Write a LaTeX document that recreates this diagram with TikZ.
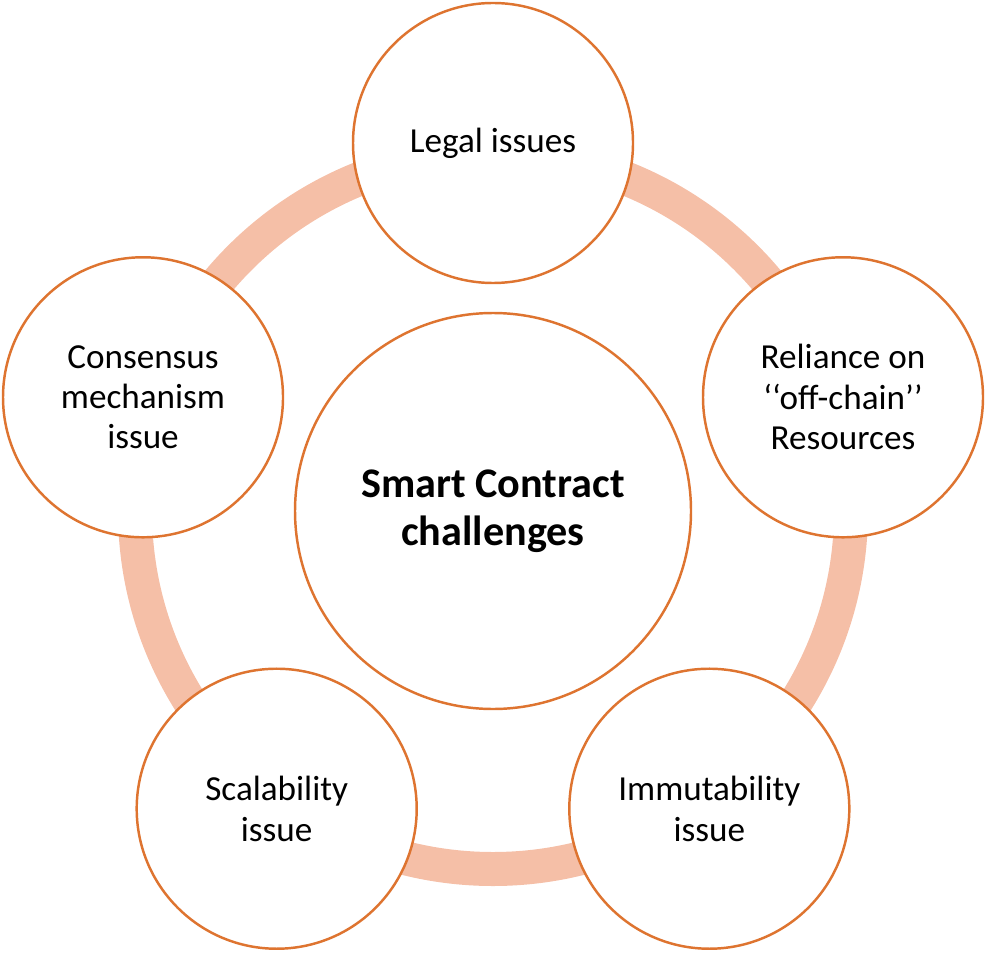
\documentclass[tikz,border=0pt]{standalone}
\usepackage{fontspec}
\setmainfont{Carlito}
\usetikzlibrary{calc}
\definecolor{ringpnk}{HTML}{F5BFA7}
\definecolor{edgeorg}{HTML}{DE7430}
\tikzset{
  issue/.style={circle, draw=edgeorg, line width=1.4pt, fill=white, minimum size=5.6cm, inner sep=0pt, align=center, font=\fontsize{20}{23}\selectfont},
  hub/.style={issue, minimum size=7.92cm, font=\bfseries\fontsize{24}{27.5}\selectfont}
}

\begin{document}
\begin{tikzpicture}
\useasboundingbox (0,0) rectangle (19.7,19.04);
\coordinate (mid) at (9.86,8.82);

% pink ring behind all circles
\draw[ringpnk, line width=0.68cm] (mid) circle (7.16);

\node[hub] (core) at (mid) {Smart Contract\\challenges};

\node[issue] (legal) at ($(mid)+(90:7.36)$) {Legal issues};
\node[issue] (offchain) at ($(mid)+(18:7.36)$) {Reliance on\\‘‘off-chain’’\\Resources};
\node[issue] (immut) at ($(mid)+(-54:7.36)$) {Immutability\\issue};
\node[issue] (scale) at ($(mid)+(-126:7.36)$) {Scalability\\issue};
\node[issue] (consensus) at ($(mid)+(162:7.36)$) {Consensus\\mechanism\\issue};
\end{tikzpicture}
\end{document}
